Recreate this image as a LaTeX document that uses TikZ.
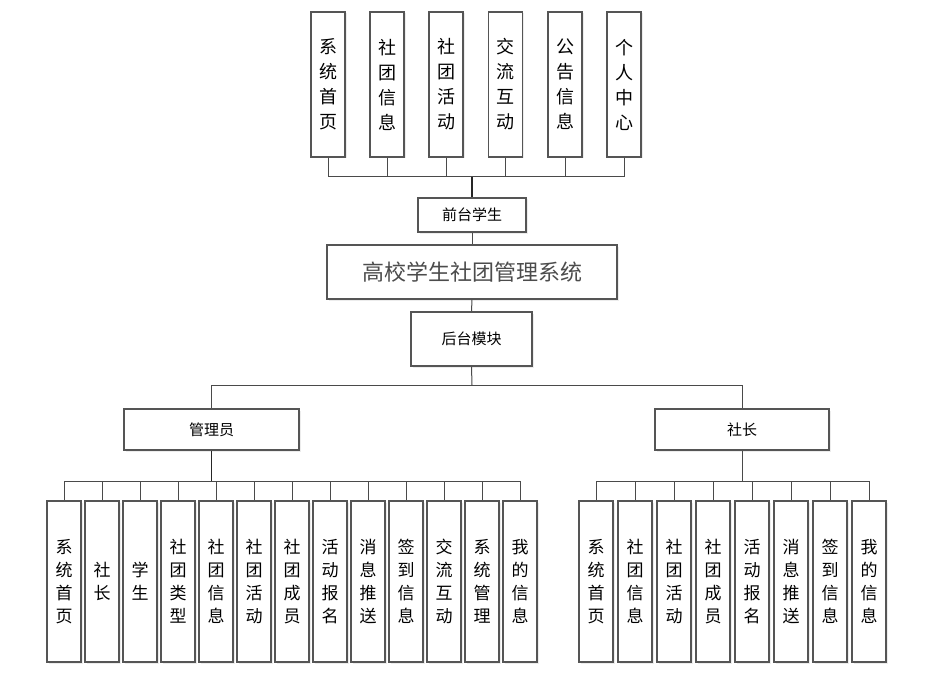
\documentclass[tikz,border=0pt]{standalone}
\usepackage{fontspec}
\setmainfont{Noto Sans CJK SC}
\usetikzlibrary{shadows}
\definecolor{boxline}{HTML}{555555}
\definecolor{conn}{HTML}{4A4A4A}
\tikzset{
  box/.style={draw=boxline, line width=1.1pt, fill=white, inner sep=0pt, align=center,
    drop shadow={shadow xshift=1.5pt, shadow yshift=-1.5pt, fill=gray!30, opacity=0.5}},
  topbox/.style={box, minimum width=34pt, minimum height=145pt, font=\fontsize{18}{25}\selectfont},
  botbox/.style={box, minimum width=34pt, minimum height=161pt, font=\fontsize{17}{23}\selectfont},
  midbox/.style={box, font=\fontsize{15}{18}\selectfont},
  wire/.style={draw=conn, line width=1pt},
  trunk/.style={draw=black!85, line width=1.6pt}
}
\begin{document}
\begin{tikzpicture}[x=1pt,y=-1pt]
\useasboundingbox (0,0) rectangle (935,682);
% top row
\node[topbox] (t1) at (328,84.5) {系\\统\\首\\页};
\node[topbox] (t2) at (387,84.5) {社\\团\\信\\息};
\node[topbox] (t3) at (446,84.5) {社\\团\\活\\动};
\node[topbox] (t4) at (505.5,84.5) {交\\流\\互\\动};
\node[topbox] (t5) at (565,84.5) {公\\告\\信\\息};
\node[topbox] (t6) at (624,84.5) {个\\人\\中\\心};
\coordinate (bus1) at (472,177);
% middle
\node[midbox, minimum width=108pt, minimum height=34pt] (fq) at (472,215) {前台学生};
\node[box, minimum width=290pt, minimum height=54pt, font=\fontsize{22}{26}\selectfont, text=black!70] (sys) at (472,272) {高校学生社团管理系统};
\node[midbox, minimum width=121pt, minimum height=54pt] (hb) at (471.5,339) {后台模块};
\coordinate (bus2) at (472,385);
\node[midbox, minimum width=175pt, minimum height=41pt] (gly) at (211.5,429.5) {管理员};
\node[midbox, minimum width=174pt, minimum height=41pt] (sz) at (742,429.5) {社长};
\coordinate (bus3) at (211.5,481);
\coordinate (bus4) at (742,481);
% admin children
\foreach \i/\t in {1/{系\\统\\首\\页},2/{社\\长},3/{学\\生},4/{社\\团\\类\\型},5/{社\\团\\信\\息},6/{社\\团\\活\\动},7/{社\\团\\成\\员},8/{活\\动\\报\\名},9/{消\\息\\推\\送},10/{签\\到\\信\\息},11/{交\\流\\互\\动},12/{系\\统\\管\\理},13/{我\\的\\信\\息}}{
  \node[botbox] (a\i) at ({64+38*(\i-1)},581.5) {\t};
}
% president children
\foreach \i/\t in {1/{系\\统\\首\\页},2/{社\\团\\信\\息},3/{社\\团\\活\\动},4/{社\\团\\成\\员},5/{活\\动\\报\\名},6/{消\\息\\推\\送},7/{签\\到\\信\\息},8/{我\\的\\信\\息}}{
  \node[botbox] (b\i) at ({596+39*(\i-1)},581.5) {\t};
}
% connectors top
\foreach \i in {1,...,6}{ \draw[wire] (t\i.south) -- (t\i.south |- bus1); }
\draw[wire] (t1.south |- bus1) -- (t6.south |- bus1);
\draw[trunk] (bus1) -- (fq.north);
\draw[wire] (fq.south) -- (sys.north);
\draw[wire] (sys.south) -- (hb.north);
\draw[wire] (hb.south) -- (bus2);
\draw[wire] (gly.north |- bus2) -- (sz.north |- bus2);
\draw[wire] (gly.north |- bus2) -- (gly.north);
\draw[wire] (sz.north |- bus2) -- (sz.north);
% admin connectors
\draw[trunk] (gly.south) -- (bus3);
\draw[wire] (a1.north |- bus3) -- (a13.north |- bus3);
\foreach \i in {1,...,13}{ \draw[wire] (a\i.north |- bus3) -- (a\i.north); }
% president connectors
\draw[wire] (sz.south) -- (bus4);
\draw[wire] (b1.north |- bus4) -- (b8.north |- bus4);
\foreach \i in {1,...,8}{ \draw[wire] (b\i.north |- bus4) -- (b\i.north); }
\end{tikzpicture}
\end{document}
